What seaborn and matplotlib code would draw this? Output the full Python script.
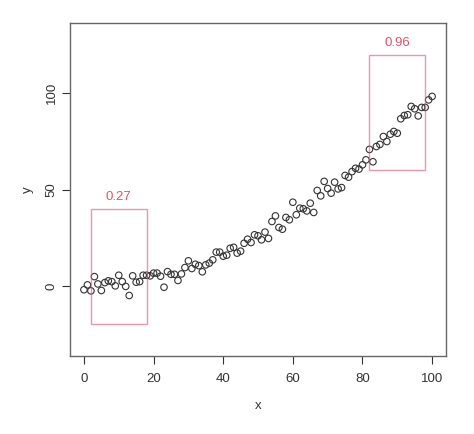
import numpy as np
import pandas as pd
import matplotlib
matplotlib.use("Agg")
import matplotlib.pyplot as plt
import seaborn as sns
from matplotlib.patches import Rectangle

# data
x_vals = list(range(0, 101))
y_vals = [
    -2.0, 0.5, -2.6, 4.8, 1.0, -2.4, 1.7, 2.6, 2.2, 0.0,
    5.5, 2.2, -0.3, -5.0, 5.2, 1.9, 2.2, 5.5, 5.5, 5.2,
    6.6, 6.6, 5.0, -0.7, 7.4, 6.0, 6.0, 2.8, 6.2, 9.5,
    13.0, 9.0, 11.2, 10.5, 7.3, 10.9, 11.8, 13.5, 17.5, 17.5,
    15.4, 15.9, 19.5, 20.0, 17.0, 18.0, 22.1, 24.2, 22.5, 26.5,
    26.0, 23.9, 27.9, 24.6, 33.4, 36.3, 30.3, 29.4, 35.5, 34.3,
    43.4, 36.9, 40.3, 40.0, 38.9, 42.9, 38.1, 49.5, 46.7, 54.2,
    50.5, 48.1, 53.8, 50.3, 51.0, 57.3, 56.4, 59.3, 61.0, 60.6,
    62.8, 65.4, 70.8, 64.4, 72.3, 73.4, 77.5, 74.9, 78.7, 80.1,
    79.2, 86.7, 88.4, 88.8, 93.1, 91.9, 88.2, 92.6, 92.6, 96.5,
    98.3,
]

# highlighted windows: x range, y range, label
box_x0 = [2, 82]
box_x1 = [18, 98]
box_y0 = [-20, 60]
box_y1 = [40, 120]
box_labels = ["0.27", "0.96"]

df = pd.DataFrame({"x": x_vals, "y": y_vals})

sns.set_style("white")
plt.rcParams["font.family"] = ["Liberation Sans", "DejaVu Sans"]

fig = plt.figure(figsize=(4.74, 4.34), dpi=100)
ax = fig.add_axes([0.1477, 0.1797, 0.7933, 0.7673])

sns.scatterplot(data=df, x="x", y="y", ax=ax, s=22, facecolor="none",
                edgecolor="#333333", linewidth=0.8, marker="o")

red = "#DF536B"
for x0, x1, y0, y1, lab in zip(box_x0, box_x1, box_y0, box_y1, box_labels):
    ax.add_patch(Rectangle((x0, y0), x1 - x0, y1 - y0, fill=False,
                           edgecolor=red, alpha=0.6, linewidth=1.0))
    ax.text((x0 + x1) / 2, y1 + 3, lab, color=red, fontsize=9.5,
            ha="center", va="bottom")

ax.set_xlim(-4, 104)
ax.set_ylim(-36.4, 136.4)
ax.set_xticks([0, 20, 40, 60, 80, 100])
ax.set_yticks([0, 50, 100])
ax.tick_params(axis="both", direction="out", length=6, width=0.8,
               colors="#333333", labelsize=9.5, left=True, bottom=True)
ax.tick_params(axis="x", pad=6)
ax.tick_params(axis="y", pad=3)
for lab in ax.get_yticklabels():
    lab.set_rotation(90)
    lab.set_va("center")
for sp in ax.spines.values():
    sp.set_color("#666666")
    sp.set_linewidth(1.0)

ax.set_xlabel("x", fontsize=9.5, color="#333333", labelpad=11)
ax.set_ylabel("y", fontsize=9.5, color="#333333", labelpad=8)

fig.savefig("out.png", dpi=100)
